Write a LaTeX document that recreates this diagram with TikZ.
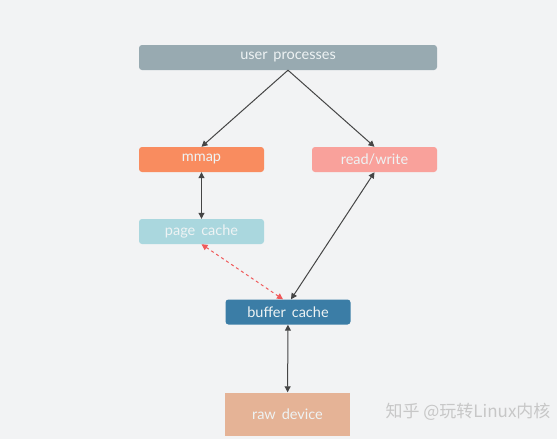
\documentclass[tikz,border=0pt]{standalone}
\usepackage{fontspec}
\setmainfont{Lato}[WordSpace={1.6}]
\newfontfamily\cjk{Noto Sans CJK SC}
\usetikzlibrary{positioning, arrows.meta}

\definecolor{bgcol}{HTML}{F2F3F4}
\definecolor{usercol}{HTML}{98AAB1}
\definecolor{mmapcol}{HTML}{F98C5F}
\definecolor{rwcol}{HTML}{F9A19B}
\definecolor{pagecol}{HTML}{AAD7DE}
\definecolor{buffcol}{HTML}{3B7DA6}
\definecolor{rawcol}{HTML}{E5B396}
\definecolor{linecol}{HTML}{454545}
\definecolor{dashcol}{HTML}{F0595A}
\definecolor{labelcol}{HTML}{EEF3F4}

\begin{document}
\begin{tikzpicture}[
        x=1pt, y=-1pt,
        layer/.style={rectangle, rounded corners=3pt, text=labelcol, font=\fontsize{14.5}{16}\selectfont, minimum height=25pt, minimum width=125pt, inner sep=0pt},
        arrow/.style={draw=linecol, line width=1pt, -{Triangle[length=6pt, width=6pt]}},
        twoway/.style={draw=linecol, line width=1pt, {Triangle[length=6pt, width=6pt]}-{Triangle[length=6pt, width=6pt]}},
        dashlink/.style={draw=dashcol, line width=1pt, dashed, {Triangle[length=6pt, width=6pt]}-{Triangle[length=6pt, width=6pt]}}
    ]
    \useasboundingbox[fill=bgcol] (0,0) rectangle (557,439);

    % Nodes
    \node (user) [layer, fill=usercol, minimum width=298pt] at (288,57.5) {user processes};
    \node (mmap) [layer, fill=mmapcol] at (201.5,159.5) {mmap};
    \node (rw) [layer, fill=rwcol] at (374.5,159.5) {read/write};
    \node (page) [layer, fill=pagecol] at (201.5,231.5) {page cache};
    \node (buffer) [layer, fill=buffcol] at (288,312) {buffer cache};
    \node (raw) [layer, fill=rawcol, rounded corners=0pt, minimum height=43pt] at (287.5,414) {raw device};

    \node (mark) [text=black!22, font=\cjk\fontsize{17}{19}\selectfont, anchor=west] at (382,412) {知乎 @玩转Linux内核};

    % Arrows
    \draw [arrow] (user.south) -- (mmap.north);
    \draw [arrow] (user.south) -- (rw.north);
    \draw [twoway] (mmap) -- (page);
    \draw [twoway] (rw.south) -- ([xshift=3pt]buffer.north);
    \draw [dashlink] (page.south) -- ([xshift=-5pt]buffer.north);
    \draw [twoway] (buffer) -- (raw);

\end{tikzpicture}
\end{document}
